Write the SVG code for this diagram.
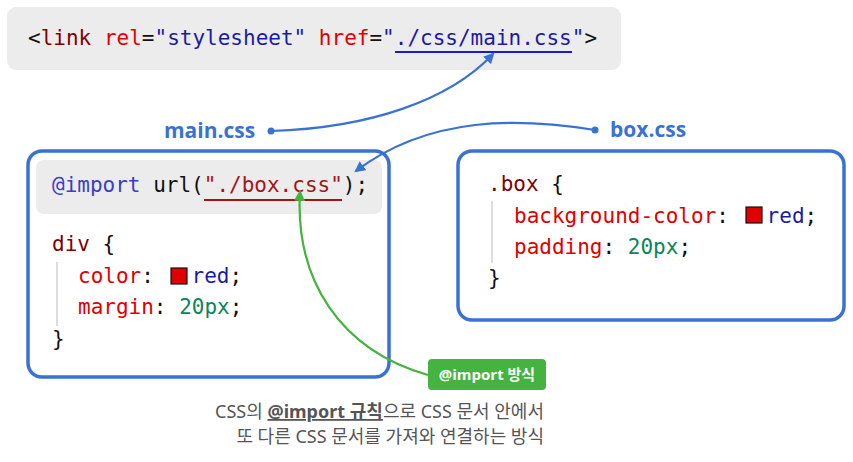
<svg xmlns="http://www.w3.org/2000/svg" width="853" height="462" viewBox="0 0 853 462">
<defs>
<marker id="ab" viewBox="0 0 10 10" refX="8" refY="5" markerWidth="5" markerHeight="5" orient="auto-start-reverse"><path d="M0,0 L10,5 L0,10 z" fill="#3a72d4"/></marker>
<marker id="ag" viewBox="0 0 10 10" refX="8" refY="5" markerWidth="5" markerHeight="5" orient="auto-start-reverse"><path d="M0,0 L10,5 L0,10 z" fill="#44b33f"/></marker>
<style>
.code{font-family:"DejaVu Sans Mono","Liberation Mono",monospace;font-size:21px;fill:#111}
.sel{fill:#800000}.prop{fill:#e00000}.val{fill:#1a1aa6}.num{fill:#098658}.str{fill:#a31515}.kw{fill:#3c3cc8}
.lbl{font-family:"Open Sans","Noto Sans",sans-serif;font-weight:bold;font-size:21px;fill:#3a72d4}
.frame{fill:#fff;stroke:#3a72d4;stroke-width:3.5}
.bar{stroke:#d0d0d0;stroke-width:1.5}
.sw{fill:#e00000;stroke:#111;stroke-width:1.2}
.cap{font-family:"Noto Sans","Noto Sans CJK KR",sans-serif;font-size:18px;fill:#555}
</style>
</defs>
<g id="link">
<rect x="7" y="7" width="614" height="63" rx="9" fill="#ececec"/>
<text class="code" x="28" y="45">&lt;<tspan class="sel">link</tspan> <tspan class="prop">rel</tspan>=<tspan class="val">"stylesheet"</tspan> <tspan class="prop">href</tspan>=<tspan class="val">"./css/main.css"</tspan>&gt;</text>
<line x1="395" y1="52" x2="572" y2="52" stroke="#1a1ad0" stroke-width="2"/>
</g>
<g id="main">
<text class="lbl" x="164" y="138">main.css</text>
<rect class="frame" x="28" y="151" width="361" height="226" rx="14"/>
<rect x="36" y="160" width="346" height="54" rx="8" fill="#ececec"/>
<text class="code" x="52" y="192"><tspan class="kw">@import</tspan> url(<tspan class="str">"./box.css"</tspan>);</text>
<line x1="204" y1="200" x2="342" y2="200" stroke="#a31515" stroke-width="2"/>
<text class="code" x="52" y="251"><tspan class="sel">div</tspan> {</text>
<line class="bar" x1="57" y1="262" x2="57" y2="326"/>
<text class="code" x="78" y="283"><tspan class="prop">color</tspan>: <tspan class="val" dx="25">red</tspan>;</text>
<rect class="sw" x="171" y="268" width="16" height="16"/>
<text class="code" x="78" y="314"><tspan class="prop">margin</tspan>: <tspan class="num">20px</tspan>;</text>
<text class="code" x="52" y="346">}</text>
</g>
<g id="box">
<text class="lbl" x="610" y="137">box.css</text>
<rect class="frame" x="458" y="151" width="386" height="169" rx="14"/>
<text class="code" x="488" y="191"><tspan class="sel">.box</tspan> {</text>
<line class="bar" x1="492" y1="201" x2="492" y2="263"/>
<text class="code" x="514" y="223"><tspan class="prop">background-color</tspan>: <tspan class="val" dx="25">red</tspan>;</text>
<rect class="sw" x="746" y="207" width="16" height="16"/>
<text class="code" x="514" y="254"><tspan class="prop">padding</tspan>: <tspan class="num">20px</tspan>;</text>
<text class="code" x="488" y="285">}</text>
</g>
<g id="badge">
<rect x="428" y="359" width="118" height="31" rx="4" fill="#44b33f"/>
<text x="487" y="380" text-anchor="middle" font-family="Open Sans,Noto Sans CJK KR,sans-serif" font-weight="bold" font-size="15" fill="#fff">@import 방식</text>
</g>
<g id="caption">
<text class="cap" x="544" y="418" text-anchor="end">CSS의 <tspan font-weight="bold" text-decoration="underline">@import 규칙</tspan>으로 CSS 문서 안에서</text>
<text class="cap" x="544" y="443" text-anchor="end">또 다른 CSS 문서를 가져와 연결하는 방식</text>
</g>
<g id="connectors" fill="none" stroke-width="2.2">
<circle cx="271" cy="131" r="3.5" fill="#3a72d4"/>
<path d="M271,131 C370,128 450,100 493,54" stroke="#3a72d4" marker-end="url(#ab)"/>
<circle cx="595" cy="130" r="3.5" fill="#3a72d4"/>
<path d="M595,130 C520,118 430,115 356,171" stroke="#3a72d4" marker-end="url(#ab)"/>
<path d="M428,375 C340,350 295,280 300,192" stroke="#44b33f" marker-end="url(#ag)"/>
</g>
</svg>
